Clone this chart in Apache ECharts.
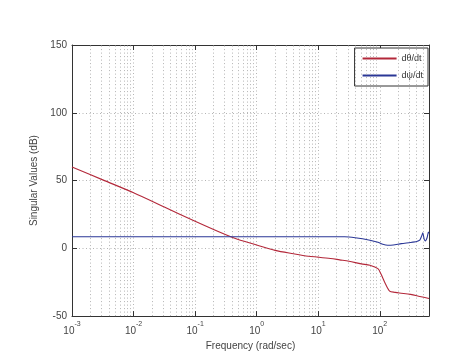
<!DOCTYPE html>
<html><head><meta charset="utf-8">
<script src="https://cdn.jsdelivr.net/npm/echarts@6/dist/echarts.min.js"></script>
<style>html,body{margin:0;padding:0;background:#fff}#c{width:474px;height:356px}</style>
</head><body><div id="c"></div>
<script>
// log10(frequency in rad/sec) and singular values (dB)
const redLogFreq = [-3, -2.5, -2, -1.5, -1, -0.5, -0.3, 0, 0.3, 0.6, 0.84, 1.0, 1.2, 1.35, 1.5, 1.7, 1.84, 1.97, 2.02, 2.08, 2.16, 2.25, 2.32, 2.5, 2.65, 2.8];
const redDb      = [60, 50.5, 41, 30.5, 20, 10, 6.5, 2.5, -1.5, -4, -5.8, -6.5, -7.5, -8.5, -9.5, -11.5, -12.5, -15, -19, -25, -31.5, -32.5, -33, -34, -35.5, -37];
const blueLogFreq = [-3, -2, -1, 0, 1, 1.43, 1.6, 1.84, 1.97, 2.05, 2.13, 2.22, 2.35, 2.5, 2.6, 2.65, 2.68, 2.7, 2.72, 2.74, 2.77, 2.79, 2.8];
const blueDb      = [8.5, 8.5, 8.5, 8.5, 8.5, 8.5, 7.8, 6, 4.5, 3, 2.3, 2.5, 3.5, 4.3, 5, 6, 9, 11.5, 7, 5.5, 8, 12, 11];
const decadeExps = [-3, -2, -1, 0, 1, 2];
const minorMultipliers = [2, 3, 4, 5, 6, 7, 8, 9];
const yTicks = [-50, 0, 50, 100, 150];

const xMin = -3, xMax = 2.8;
const minorLines = [];
decadeExps.forEach(e => minorMultipliers.forEach(m => {
  const v = e + Math.log10(m);
  if (v < xMax - 0.03) minorLines.push({ xAxis: v });
}));

const zip = (a, b) => a.map((x, i) => [x, b[i]]);
const font = 'Liberation Sans, Arial, sans-serif';
const txt = '#444';
const gridDot = { color: '#b4b4b4', type: [1, 2.5], width: 1 };

const chart = echarts.init(document.getElementById('c'), null, { renderer: 'canvas' });
chart.setOption({
  animation: false,
  backgroundColor: '#fff',
  textStyle: { fontFamily: font },
  grid: { left: 72, right: 45, top: 45, bottom: 39, containLabel: false },
  legend: {
    data: ['dθ/dt', 'dψ/dt'],
    orient: 'vertical', right: 46, top: 48,
    backgroundColor: '#fff', borderColor: '#333', borderWidth: 1,
    padding: [6, 5, 6, 8], itemGap: 8,
    icon: 'rect', itemWidth: 34, itemHeight: 2,
    textStyle: { fontSize: 9, color: '#333', fontFamily: font }
  },
  xAxis: [{
    type: 'value', min: xMin, max: xMax, interval: 1,
    name: 'Frequency (rad/sec)', nameLocation: 'middle', nameGap: 20,
    nameTextStyle: { fontSize: 10, color: txt },
    axisLine: { onZero: false, lineStyle: { color: '#333' } },
    axisTick: { inside: true, length: 5, lineStyle: { color: '#333' } },
    axisLabel: {
      margin: 4, color: txt, showMaxLabel: false,
      formatter: v => '{b|10}{s|' + (v < 0 ? '-' + Math.abs(v) : v) + '}',
      rich: {
        b: { fontSize: 10, color: txt, lineHeight: 16, verticalAlign: 'bottom', fontFamily: font },
        s: { fontSize: 7, color: txt, lineHeight: 16, verticalAlign: 'top', fontFamily: font }
      }
    },
    splitLine: { show: true, lineStyle: gridDot }
  }, {
    type: 'value', min: xMin, max: xMax, interval: 1, position: 'top',
    axisLine: { onZero: false, lineStyle: { color: '#333' } },
    axisTick: { inside: true, length: 5, lineStyle: { color: '#333' } },
    axisLabel: { show: false }, splitLine: { show: false }
  }],
  yAxis: [{
    type: 'value', min: yTicks[0], max: yTicks[yTicks.length - 1], interval: 50,
    name: 'Singular Values (dB)', nameLocation: 'middle', nameGap: 32,
    nameTextStyle: { fontSize: 10, color: txt },
    axisLine: { show: true, onZero: false, lineStyle: { color: '#333' } },
    axisTick: { show: true, inside: true, length: 5, lineStyle: { color: '#333' } },
    axisLabel: { fontSize: 10, color: txt, margin: 5 },
    splitLine: { show: true, lineStyle: gridDot }
  }, {
    type: 'value', min: yTicks[0], max: yTicks[yTicks.length - 1], interval: 50, position: 'right',
    axisLine: { show: true, onZero: false, lineStyle: { color: '#333' } },
    axisTick: { show: true, inside: true, length: 5, lineStyle: { color: '#333' } },
    axisLabel: { show: false }, splitLine: { show: false }
  }],
  series: [{
    name: 'minor-grid', type: 'line', data: [], silent: true,
    markLine: {
      silent: true, symbol: ['none', 'none'], label: { show: false },
      lineStyle: gridDot, emphasis: { disabled: true }, animation: false,
      data: minorLines
    }
  }, {
    name: 'dθ/dt', type: 'line', data: zip(redLogFreq, redDb), smooth: 0.3,
    showSymbol: false, color: '#b3283a', itemStyle: { color: '#b3283a' },
    lineStyle: { width: 1.1, color: '#b3283a' }, z: 5
  }, {
    name: 'dψ/dt', type: 'line', data: zip(blueLogFreq, blueDb), smooth: 0.2,
    showSymbol: false, color: '#2a3796', itemStyle: { color: '#2a3796' },
    lineStyle: { width: 1.1, color: '#2a3796' }, z: 5
  }]
});
</script></body></html>
